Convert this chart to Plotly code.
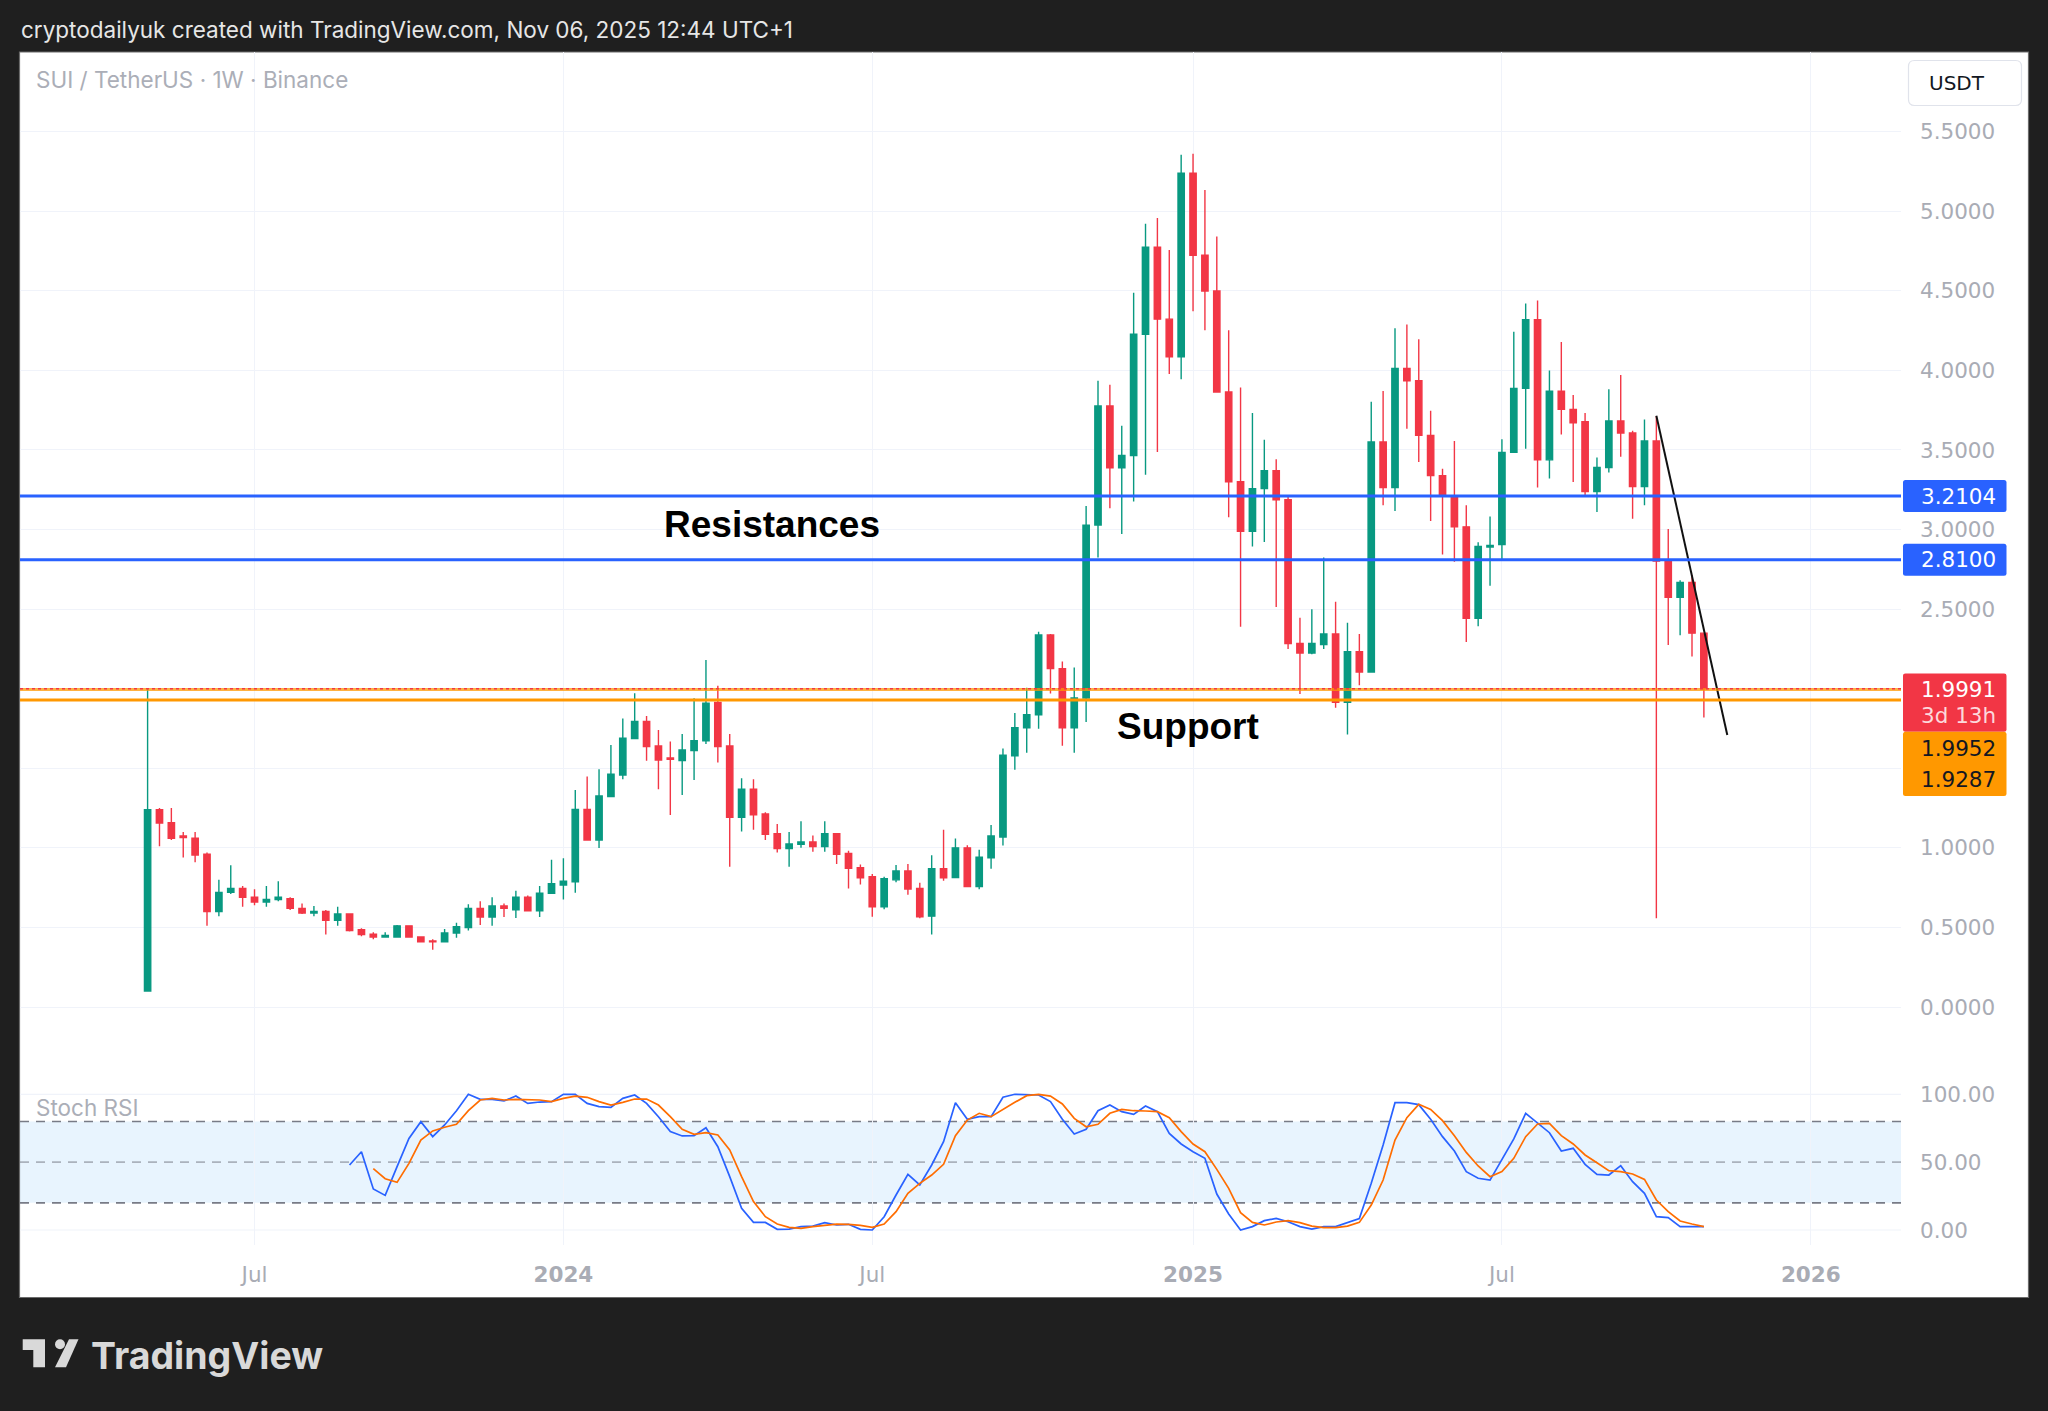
import plotly.graph_objects as go
import pandas as pd

# ---------------- data ----------------
first_week = "2023-05-01"
n_weeks = 132
dates = pd.date_range(first_week, periods=n_weeks, freq="7D")

opens = [0.10, 1.24, 1.158, 1.075, 1.06, 0.96, 0.60, 0.72, 0.745, 0.69,
         0.66, 0.675, 0.68, 0.62, 0.59, 0.60, 0.545, 0.585, 0.485, 0.458,
         0.44, 0.44, 0.51, 0.44, 0.415, 0.41, 0.465, 0.50, 0.62, 0.565,
         0.635, 0.61, 0.69, 0.605, 0.715, 0.766, 0.787, 1.242, 1.049, 1.322,
         1.458, 1.687, 1.794, 1.640, 1.565, 1.548, 1.611, 1.672, 1.913, 1.640,
         1.192, 1.368, 1.213, 1.089, 0.995, 1.022, 1.037, 1.008, 1.089, 0.965,
         0.875, 0.819, 0.630, 0.799, 0.855, 0.745, 0.571, 0.869, 0.814, 1.000,
         0.757, 0.937, 1.068, 1.579, 1.755, 1.836, 2.337, 2.126, 1.755, 1.942,
         3.028, 3.776, 3.388, 3.465, 4.227, 4.774, 4.322, 4.086, 5.239, 4.724,
         4.499, 3.864, 3.300, 2.989, 3.257, 3.370, 3.187, 2.284, 2.224, 2.277,
         2.344, 1.915, 2.232, 2.105, 3.550, 3.264, 4.013, 3.935, 3.592, 3.339,
         3.213, 3.017, 2.442, 2.890, 2.905, 3.485, 3.887, 4.319, 3.438, 3.870,
         3.755, 3.677, 3.239, 3.390, 3.682, 3.607, 3.270, 3.556, 2.802, 2.574,
         2.667, 2.349]

highs = [2.00, 1.25, 1.25, 1.10, 1.10, 0.97, 0.80, 0.89, 0.76, 0.74,
         0.76, 0.79, 0.69, 0.65, 0.635, 0.61, 0.63, 0.585, 0.495, 0.47,
         0.47, 0.515, 0.51, 0.44, 0.425, 0.49, 0.53, 0.645, 0.665, 0.69,
         0.65, 0.73, 0.70, 0.76, 0.925, 0.934, 1.364, 1.448, 1.494, 1.647,
         1.812, 1.972, 1.829, 1.741, 1.668, 1.716, 1.940, 2.181, 2.018, 1.716,
         1.437, 1.431, 1.224, 1.150, 1.099, 1.167, 1.077, 1.167, 1.089, 0.982,
         0.896, 0.835, 0.818, 0.892, 0.898, 0.780, 0.954, 1.114, 1.059, 1.017,
         0.988, 1.143, 1.625, 1.847, 2.006, 2.358, 2.344, 2.171, 2.133, 3.148,
         3.935, 3.910, 3.652, 4.488, 4.922, 4.958, 4.756, 5.355, 5.362, 5.133,
         4.841, 4.252, 3.892, 3.733, 3.564, 3.441, 3.205, 2.446, 2.499, 2.824,
         2.546, 2.414, 2.344, 3.803, 3.871, 4.265, 4.288, 4.195, 3.746, 3.382,
         3.556, 3.152, 2.920, 3.082, 3.567, 4.243, 4.420, 4.439, 3.999, 4.178,
         3.845, 3.733, 3.452, 3.881, 3.971, 3.621, 3.691, 3.713, 3.003, 2.681,
         2.715, 2.349]

lows = [0.10, 1.01, 1.05, 0.94, 0.91, 0.51, 0.57, 0.71, 0.63, 0.64,
        0.63, 0.665, 0.61, 0.585, 0.57, 0.455, 0.51, 0.475, 0.445, 0.425,
        0.435, 0.435, 0.435, 0.41, 0.36, 0.405, 0.435, 0.48, 0.515, 0.51,
        0.565, 0.56, 0.60, 0.565, 0.71, 0.676, 0.718, 1.049, 0.999, 1.322,
        1.431, 1.682, 1.548, 1.368, 1.207, 1.332, 1.427, 1.653, 1.536, 0.882,
        1.102, 1.113, 1.049, 0.970, 0.882, 1.001, 0.976, 0.976, 0.898, 0.745,
        0.770, 0.567, 0.614, 0.784, 0.705, 0.557, 0.456, 0.793, 0.809, 0.757,
        0.740, 0.868, 1.015, 1.491, 1.597, 1.748, 1.970, 1.642, 1.597, 1.790,
        2.824, 3.134, 2.972, 3.176, 3.345, 3.487, 3.977, 3.945, 4.372, 4.252,
        3.864, 3.078, 2.390, 2.894, 2.922, 2.514, 2.249, 1.967, 2.217, 2.249,
        1.881, 1.713, 2.021, 2.105, 3.152, 3.116, 3.634, 3.424, 3.054, 2.843,
        2.798, 2.294, 2.392, 2.647, 2.815, 3.485, 3.508, 3.265, 3.320, 3.598,
        3.298, 3.208, 3.110, 3.359, 3.458, 3.068, 3.152, 0.557, 2.274, 2.336,
        2.203, 1.819]

closes = [1.24, 1.156, 1.06, 1.065, 0.955, 0.60, 0.72, 0.745, 0.69, 0.66,
          0.675, 0.69, 0.62, 0.59, 0.60, 0.545, 0.585, 0.48, 0.455, 0.44,
          0.45, 0.51, 0.44, 0.41, 0.41, 0.465, 0.505, 0.62, 0.565, 0.635,
          0.62, 0.69, 0.605, 0.715, 0.775, 0.791, 1.242, 1.049, 1.326, 1.462,
          1.689, 1.794, 1.636, 1.552, 1.557, 1.615, 1.674, 1.909, 1.636, 1.192,
          1.368, 1.207, 1.085, 0.995, 1.024, 1.037, 1.008, 1.089, 0.959, 0.871,
          0.812, 0.630, 0.806, 0.855, 0.741, 0.567, 0.869, 0.812, 1.000, 0.757,
          0.941, 1.075, 1.582, 1.755, 1.836, 2.337, 2.126, 1.755, 1.942, 3.028,
          3.776, 3.388, 3.465, 4.227, 4.774, 4.322, 4.086, 5.239, 4.724, 4.499,
          3.864, 3.300, 2.989, 3.257, 3.370, 3.187, 2.284, 2.224, 2.284, 2.344,
          1.915, 2.232, 2.105, 3.550, 3.264, 4.013, 3.935, 3.592, 3.339, 3.213,
          3.017, 2.442, 2.894, 2.900, 3.485, 3.887, 4.319, 3.438, 3.870, 3.755,
          3.671, 3.239, 3.390, 3.682, 3.607, 3.270, 3.556, 2.802, 2.574, 2.667,
          2.349, 1.9991]

stoch_k = [None] * 17 + [
    47.9, 57.7, 30.2, 25.5, 46.7, 67.5, 79.8, 68.8, 77.4, 87.9,
    100, 96.3, 96.3, 95.1, 98.7, 93.3, 94.3, 94.6, 100, 100,
    93.3, 90.9, 90.4, 97, 99.5, 93.3, 83.5, 72.5, 69.3, 69.5,
    75.4, 61.4, 39.3, 16, 5.6, 5.6, 0.5, 0.7, 2.5, 2.9,
    5.4, 3.7, 4.2, 0.5, 0, 9.8, 25.8, 41, 33.2, 47.9,
    65.1, 93.8, 81.6, 83.5, 83.5, 97.8, 100, 100, 99.5, 94.6,
    81.6, 70.7, 74.2, 87.9, 92.1, 87.2, 85.2, 91.4, 87.2, 71.2,
    63.4, 57.7, 52.8, 26.5, 11.8, 0, 2.5, 6.9, 8.6, 6.1,
    2.5, 0.7, 2.5, 2.5, 5.6, 8.4, 34.4, 62.6, 93.8, 93.8,
    92.4, 81.6, 68.8, 58.2, 43, 38.1, 36.8, 51.6, 67.1, 86,
    79.1, 71.7, 58.2, 60.2, 48.4, 41, 40.5, 47.4, 35.6, 27,
    9.8, 9.1, 2.5, 2.5, 2.5]

stoch_d = [None] * 19 + [
    45.2, 37.8, 35.1, 49.1, 66.3, 73, 75.7, 77.9,
    87.9, 95.8, 97, 95.8, 96.3, 95.8, 95.8, 94.6, 97, 98.7,
    97.8, 94.6, 92.1, 94.1, 96.5, 96.5, 92.1, 83.5, 74.2, 70.5,
    71.7, 70, 59, 39.3, 20.9, 9.8, 4.4, 2, 1.2, 2.5,
    3.7, 4.4, 4.2, 3.4, 2, 4.4, 13.5, 27, 34.4, 40.5,
    48.4, 69.5, 81, 86, 83.5, 88.9, 94.1, 99, 100, 98.7,
    92.9, 82.3, 76.1, 77.9, 86, 88.9, 87.9, 87.7, 87.2, 82.8,
    72.5, 63.4, 57.7, 44.7, 30.7, 12.8, 5.6, 3.7, 5.9, 6.9,
    5.4, 2.9, 1.7, 1.7, 2.9, 5.6, 18.4, 36.8, 66.3, 82.8,
    92.6, 88.9, 80.6, 69.5, 57.2, 47.2, 39.3, 43, 52.8, 68.8,
    78.1, 78.6, 69.5, 63.4, 55.3, 49.6, 43.7, 43, 41.3, 37.3,
    22.1, 13.5, 6.6, 4.4, 2.5]

resistance_levels = [3.2104, 2.8100]
support_levels = [1.9952, 1.9287]
last_price = 1.9991
last_price_countdown = "3d 13h"
trend_x = ["2025-10-06", "2025-11-16 19:00"]
trend_y = [3.715, 1.709]

tick_dates = ["2023-07-03", "2024-01-01", "2024-07-01", "2025-01-06", "2025-07-07", "2026-01-05"]
tick_text = ["Jul", "<b>2024</b>", "Jul", "<b>2025</b>", "Jul", "<b>2026</b>"]
price_ticks = [0.0, 0.5, 1.0, 1.5, 2.0, 2.5, 3.0, 3.5, 4.0, 4.5, 5.0, 5.5]
price_ticks_hidden = [1.5, 2.0]
stoch_ticks = [0, 50, 100]
stoch_tick_text = ["0.00", "50.00", "100.00"]
stoch_bands = [80, 50, 20]

assert len(opens) == len(highs) == len(lows) == len(closes) == n_weeks
assert len(stoch_k) == n_weeks and len(stoch_d) == n_weeks

# ---------------- layout geometry ----------------
W, H = 2048, 1411
ML, MR, MT, MB = 20, 147, 52, 166
PW, PH = W - ML - MR, H - MT - MB
PANE_SPLIT = 1070          # pixel row separating price / stoch panes


def px(x):
    return (x - ML) / PW


def py(y):
    return (H - MB - y) / PH


# price axis: value 0 at pixel 1007, 159.15 px per unit
P0, PS = 1007.0, 159.15
price_range = [(P0 - PANE_SPLIT) / PS, (P0 - MT) / PS]
# stoch axis: value 0 at pixel 1230, 1.357 px per unit
S0, SS = 1230.0, 1.357
stoch_range = [(S0 - (H - MB)) / SS, (S0 - PANE_SPLIT) / SS]
# time axis: first bar at pixel 147.6, 11.88 px per week
BAR0, BARW = 147.6, 11.88
t0 = pd.Timestamp(first_week)
x_range = [t0 - pd.Timedelta(days=(BAR0 - ML) / BARW * 7),
           t0 + pd.Timedelta(days=(ML + PW - BAR0) / BARW * 7)]

GREEN, RED, BLUE, ORANGE = "#089981", "#F23645", "#2962FF", "#FF9800"
GRID = "#F0F3FA"
AXIS_TXT = "#A9ACB5"
FONT = "Inter, Roboto, sans-serif"
NUMFONT = "DejaVu Sans, sans-serif"
DARK = "#1F1F1F"

fig = go.Figure()

fig.add_trace(go.Candlestick(
    x=dates, open=opens, high=highs, low=lows, close=closes,
    increasing=dict(line=dict(color=GREEN, width=1.4), fillcolor=GREEN),
    decreasing=dict(line=dict(color=RED, width=1.4), fillcolor=RED),
    whiskerwidth=0, xaxis="x", yaxis="y", showlegend=False, name="SUI"))

fig.add_trace(go.Scatter(x=trend_x, y=trend_y, mode="lines",
                         line=dict(color="#111111", width=2),
                         xaxis="x", yaxis="y", showlegend=False, hoverinfo="skip"))

fig.add_trace(go.Scatter(x=dates, y=stoch_k, mode="lines",
                         line=dict(color="#2962FF", width=1.7),
                         xaxis="x2", yaxis="y2", showlegend=False, name="K"))
fig.add_trace(go.Scatter(x=dates, y=stoch_d, mode="lines",
                         line=dict(color="#FF6D00", width=1.7),
                         xaxis="x2", yaxis="y2", showlegend=False, name="D"))

shapes = []
# white chart panel (includes axis strips)
shapes.append(dict(type="rect", xref="paper", yref="paper", x0=px(19.5), x1=px(2028.5),
                   y0=py(1297.5), y1=py(52), fillcolor="white", line=dict(color="#6B6B6B", width=1.2),
                   layer="below"))
# stoch band
shapes.append(dict(type="rect", xref="paper", yref="y2", x0=0, x1=1, y0=stoch_bands[2], y1=stoch_bands[0],
                   fillcolor="rgba(33,150,243,0.10)", line=dict(width=0), layer="below"))
for v in [0, 100]:
    shapes.append(dict(type="line", xref="paper", yref="y2", x0=0, x1=1, y0=v, y1=v,
                       line=dict(color=GRID, width=1.2), layer="below"))
for v in stoch_bands:
    col = "rgba(120,123,134,0.55)" if v == 50 else "#787B86"
    shapes.append(dict(type="line", xref="paper", yref="y2", x0=0, x1=1, y0=v, y1=v,
                       line=dict(color=col, width=1.6, dash="9px,7px"), layer="below"))
# horizontal drawing levels
for v in resistance_levels:
    shapes.append(dict(type="line", xref="paper", yref="y", x0=0, x1=1, y0=v, y1=v,
                       line=dict(color=BLUE, width=3), layer="above"))
for v, col in zip(support_levels, ["rgba(255,152,0,0.75)", ORANGE]):
    shapes.append(dict(type="line", xref="paper", yref="y", x0=0, x1=1, y0=v, y1=v,
                       line=dict(color=col, width=3), layer="above"))
shapes.append(dict(type="line", xref="paper", yref="y", x0=0, x1=1, y0=last_price, y1=last_price,
                   line=dict(color=RED, width=1.5, dash="dot"), layer="above"))


def price_px(v):
    return P0 - PS * v


def rrect(x0, y0, x1, y1, r=3):
    pts = [(x0 + r, y0), (x1 - r, y0), ("Q", x1, y0, x1, y0 + r), (x1, y1 - r),
           ("Q", x1, y1, x1 - r, y1), (x0 + r, y1), ("Q", x0, y1, x0, y1 - r),
           (x0, y0 + r), ("Q", x0, y0, x0 + r, y0)]
    out = f"M {px(pts[0][0]):.6f},{py(pts[0][1]):.6f}"
    for p in pts[1:]:
        if p[0] == "Q":
            out += f" Q {px(p[1]):.6f},{py(p[2]):.6f} {px(p[3]):.6f},{py(p[4]):.6f}"
        else:
            out += f" L {px(p[0]):.6f},{py(p[1]):.6f}"
    return out + " Z"


label_boxes = []
for v in resistance_levels:
    c = price_px(v)
    label_boxes.append((c - 16, c + 16, BLUE))
label_boxes.append((673.5, 731.7, RED))
label_boxes.append((731.7, 796, ORANGE))
for y0, y1, col in label_boxes:
    shapes.append(dict(type="path", xref="paper", yref="paper", path=rrect(1903, y0, 2006.5, y1, 2.5),
                       fillcolor=col, line=dict(width=0), layer="above"))
# USDT box
shapes.append(dict(type="path", xref="paper", yref="paper", path=rrect(1908.5, 60.5, 2021.5, 105.5, 6),
                   fillcolor="white", line=dict(color="#E0E3EB", width=1.2), layer="above"))


# TradingView logo
def ppath(points):
    return "M " + " L ".join(f"{px(x):.5f},{py(y):.5f}" for x, y in points) + " Z"


LOGO = "#D9D9D9"
shapes.append(dict(type="path", xref="paper", yref="paper",
                   path=ppath([(22.7, 1339.3), (45, 1339.3), (45, 1367.3), (33.3, 1367.3), (33.3, 1350), (22.7, 1350)]),
                   fillcolor=LOGO, line=dict(width=0)))
shapes.append(dict(type="circle", xref="paper", yref="paper", x0=px(55), x1=px(65),
                   y0=py(1349.3), y1=py(1339.3), fillcolor=LOGO, line=dict(width=0)))
shapes.append(dict(type="path", xref="paper", yref="paper",
                   path=ppath([(69, 1339.3), (78.5, 1339.3), (66, 1367.3), (55, 1367.3)]),
                   fillcolor=LOGO, line=dict(width=0)))

annotations = []


def ann(text, x, y, size, color, xanchor="left", family=FONT):
    annotations.append(dict(text=text, x=px(x), y=py(y), xref="paper", yref="paper",
                            xanchor=xanchor, yanchor="middle", showarrow=False,
                            font=dict(family=family, size=size, color=color)))


ann("cryptodailyuk created with TradingView.com, Nov 06, 2025 12:44 UTC+1", 19, 29, 22.5, "#E6E6E6")
ann("SUI / TetherUS · 1W · Binance", 34, 80, 22.5, "#ABAEB7")
ann("Stoch RSI", 34, 1107, 22.5, "#ABAEB7")
ann("<b>Resistances</b>", 772, 524, 37, "#000000", xanchor="center", family="Liberation Sans, Arial, sans-serif")
ann("<b>Support</b>", 1188, 726, 37, "#000000", xanchor="center", family="Liberation Sans, Arial, sans-serif")
ann("USDT", 1957, 83, 20, "#131722", xanchor="center", family=NUMFONT)
for v in resistance_levels:
    ann(f"{v:.4f}", 1919, price_px(v), 21.5, "white", family=NUMFONT)
ann(f"{last_price:.4f}", 1919, 689, 21.5, "white", family=NUMFONT)
ann(last_price_countdown, 1919, 715, 21.5, "rgba(255,255,255,0.82)", family=NUMFONT)
ann(f"{support_levels[0]:.4f}", 1919, 748, 21.5, "#131722", family=NUMFONT)
ann(f"{support_levels[1]:.4f}", 1919, 779, 21.5, "#131722", family=NUMFONT)
ann("<b>TradingView</b>", 89, 1355, 37.5, LOGO)

fig.update_layout(
    width=W, height=H,
    margin=dict(l=ML, r=MR, t=MT, b=MB, pad=0),
    paper_bgcolor=DARK, plot_bgcolor="white",
    boxgap=0.24,
    showlegend=False,
    shapes=shapes, annotations=annotations,
    xaxis=dict(domain=[0, 1], anchor="y", type="date", range=x_range,
               tickvals=tick_dates, showticklabels=False, ticks="",
               showgrid=True, gridcolor=GRID, gridwidth=1.2, zeroline=False,
               showline=False, rangeslider=dict(visible=False)),
    xaxis2=dict(domain=[0, 1], anchor="y2", type="date", range=x_range, matches="x",
                tickvals=tick_dates, ticktext=tick_text, ticks="",
                tickfont=dict(family=NUMFONT, size=21.5, color=AXIS_TXT), ticklabelstandoff=14,
                showgrid=True, gridcolor=GRID, gridwidth=1.2, zeroline=False, showline=False),
    yaxis=dict(domain=[py(PANE_SPLIT), 1], anchor="x", side="right", range=price_range,
               tickvals=price_ticks,
               ticktext=["" if v in price_ticks_hidden else f"{v:.4f}" for v in price_ticks],
               ticks="", tickfont=dict(family=NUMFONT, size=21.5, color=AXIS_TXT), ticklabelstandoff=18,
               showgrid=True, gridcolor=GRID, gridwidth=1.2, zeroline=False, showline=False),
    yaxis2=dict(domain=[0, py(PANE_SPLIT)], anchor="x2", side="right", range=stoch_range,
                tickvals=stoch_ticks, ticktext=stoch_tick_text, ticks="",
                tickfont=dict(family=NUMFONT, size=21.5, color=AXIS_TXT), ticklabelstandoff=18,
                showgrid=False, zeroline=False, showline=False),
)

fig.write_html("out.html", config={"displayModeBar": False},
               post_script="document.body.style.margin='0px';document.body.style.background='#1F1F1F';")
